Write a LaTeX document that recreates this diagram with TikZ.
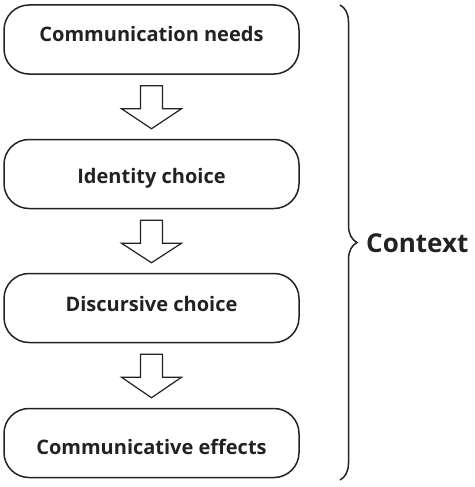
\documentclass[tikz,border=0pt]{standalone}
\usepackage{fontspec}
\setmainfont{Open Sans}
\usetikzlibrary{decorations.pathreplacing,calc}
\definecolor{ink}{HTML}{222222}
\tikzset{
  stage/.style={draw=ink, line width=1.5pt, rounded corners=25pt, minimum width=295pt, minimum height=69pt, inner sep=0pt},
  stagetext/.style={text=ink, font=\fontsize{20}{24}\selectfont\bfseries, inner sep=0pt},
  blockarrow/.style={draw=ink, line width=1.2pt, fill=white, line join=miter},
  ctx/.style={text=ink, font=\fontsize{26}{30}\selectfont\bfseries, inner sep=0pt, anchor=west}
}
\begin{document}
\begin{tikzpicture}[x=1pt,y=-1pt]
\useasboundingbox (0,0) rectangle (474,487);
\node[stage] (b1) at (151.5,39.5) {};
\node[stage] (b2) at (151.5,174) {};
\node[stage] (b3) at (151.5,308) {};
\node[stage] (b4) at (151.5,443) {};
\node[stagetext] (t1) at ([yshift=5pt]b1.center) {Communication needs};
\node[stagetext] (t2) at ([yshift=-4pt]b2.center) {Identity choice};
\node[stagetext] (t3) at ([yshift=4pt]b3.center) {Discursive choice};
\node[stagetext] (t4) at ([yshift=-4pt]b4.center) {Communicative effects};
\foreach \a/\b in {b1/b2,b2/b3,b3/b4}{
  \draw[blockarrow]
    ($(\a.south)+(-11,11)$) -- ($(\a.south)+(11,11)$) -- ($(\a.south)+(11,34)$) --
    ($(\a.south)+(30,34)$) -- ($(\b.north)+(0,-10)$) -- ($(\a.south)+(-30,34)$) --
    ($(\a.south)+(-11,34)$) -- cycle;
}
\coordinate (bt) at (340,5);
\coordinate (bb) at (340,480);
\draw[ink, line width=1.5pt, decorate, decoration={brace, amplitude=17pt, aspect=0.5}] (bt) -- (bb);
\node[ctx] (ctx) at (366,243) {Context};
\end{tikzpicture}
\end{document}
